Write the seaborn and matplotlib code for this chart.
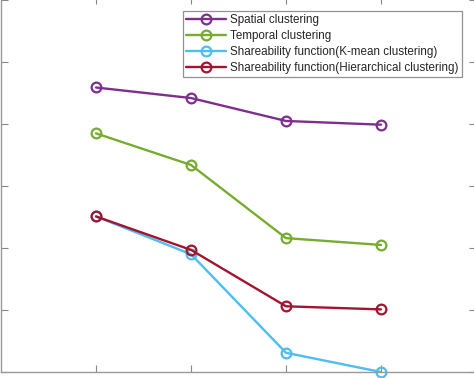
import matplotlib
matplotlib.use("Agg")
import matplotlib.pyplot as plt
import seaborn as sns
import pandas as pd

x_vals = [1, 2, 3, 4]
spatial = [4.59, 4.42, 4.05, 3.99]
temporal = [3.85, 3.34, 2.16, 2.05]
kmean = [2.51, 1.90, 0.31, 0.00]
hier = [2.51, 1.97, 1.06, 1.01]
series_names = ["Spatial clustering", "Temporal clustering",
                "Shareability function(K-mean clustering)",
                "Shareability function(Hierarchical clustering)"]
colors = ["#7E2F8E", "#77AC30", "#4DBEEE", "#A2142F"]

sns.set_style("white")
plt.rcParams['font.family'] = ['Liberation Sans', 'DejaVu Sans']

fig = plt.figure(figsize=(4.74, 3.78), dpi=100)
ax = fig.add_axes([1/474, 6/378, 475/474, 375/378])

for name, vals, c in zip(series_names, [spatial, temporal, kmean, hier], colors):
    df = pd.DataFrame({"x": x_vals, "y": vals})
    sns.lineplot(data=df, x="x", y="y", ax=ax, color=c, linewidth=1.7,
                 marker="o", markersize=7, markerfacecolor="none",
                 markeredgecolor=c, markeredgewidth=1.6, label=name,
                 clip_on=False)

ax.set_xlim(0, 5)
ax.set_ylim(0, 6.05)
ax.set_xticks([1, 2, 3, 4])
ax.set_yticks([0, 1, 2, 3, 4, 5, 6])
ax.set_xticklabels([])
ax.set_yticklabels([])
ax.set_xlabel("")
ax.set_ylabel("")
ax.tick_params(direction="in", length=5, width=0.8, color="#888888",
               top=True, right=True, bottom=True, left=True)
for s in ax.spines.values():
    s.set_color("#999999")
    s.set_linewidth(1.0)

leg = ax.legend(loc="upper right", bbox_to_anchor=(462/474, 1 - 11/378),
                bbox_transform=fig.transFigure, fontsize=8.4, frameon=True,
                fancybox=False, edgecolor="#777777", handlelength=3.4,
                handletextpad=0.35, borderpad=0.3, labelspacing=0.32,
                borderaxespad=0)
leg.get_frame().set_linewidth(0.9)

fig.savefig("out.png", dpi=100)
